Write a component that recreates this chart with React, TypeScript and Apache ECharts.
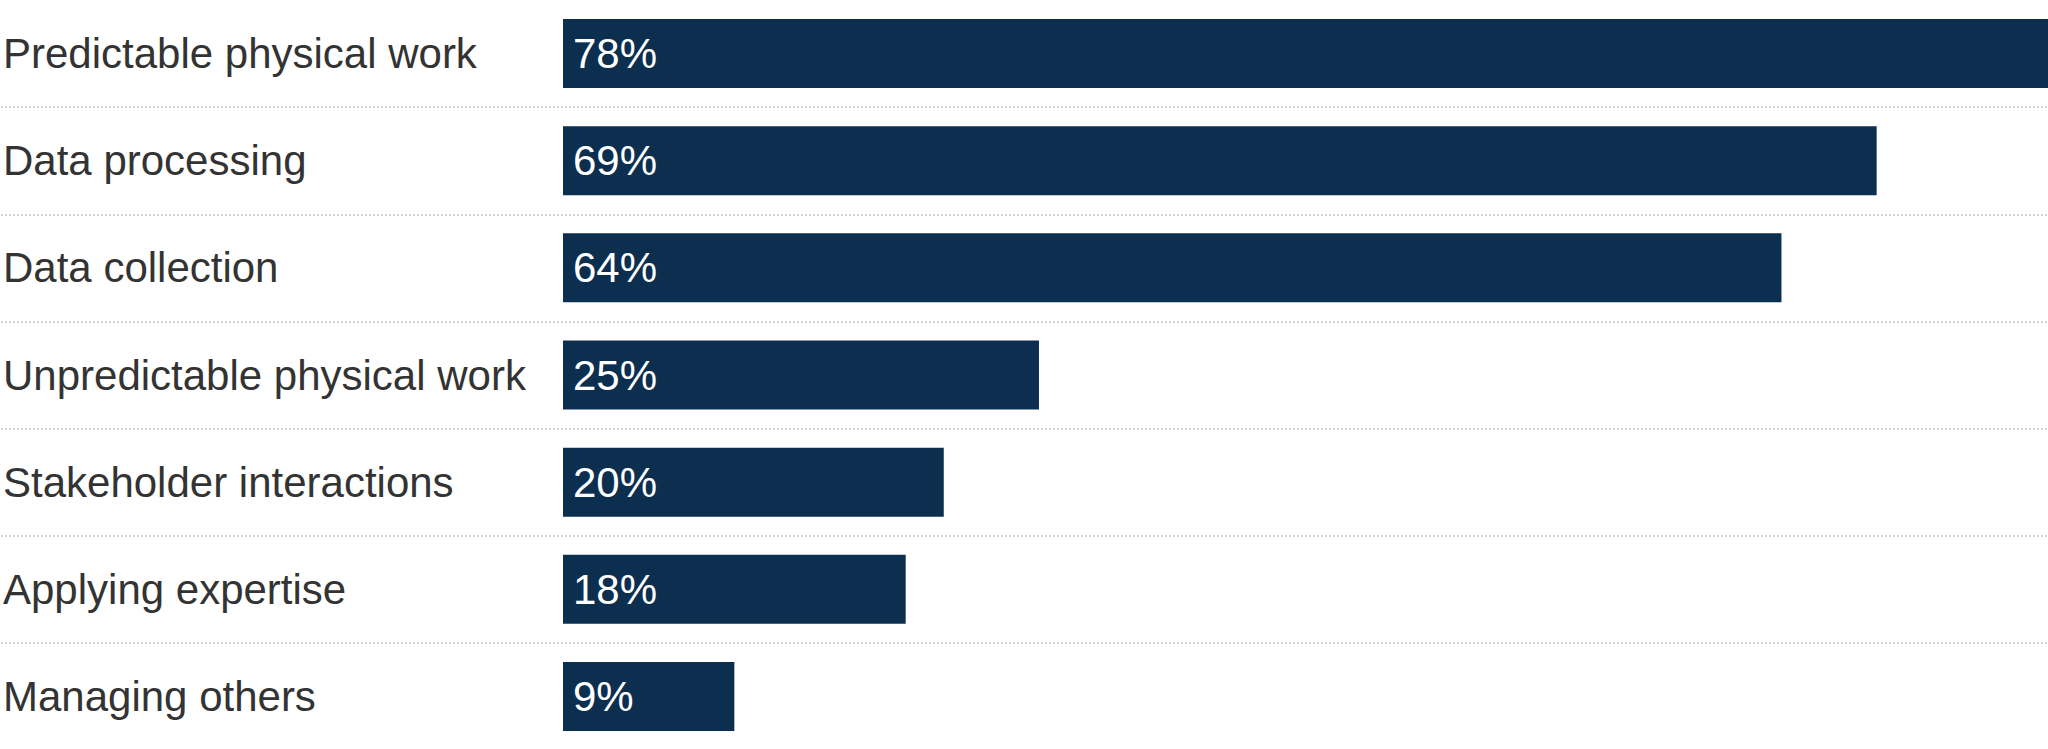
import React, { useEffect, useRef } from "react";
import * as echarts from "echarts";

const categories = [
  "Predictable physical work",
  "Data processing",
  "Data collection",
  "Unpredictable physical work",
  "Stakeholder interactions",
  "Applying expertise",
  "Managing others",
];
const values = [78, 69, 64, 25, 20, 18, 9];
const xMax = 78;

export default function App() {
  const ref = useRef<HTMLDivElement>(null);
  useEffect(() => {
    if (!ref.current) return;
    const chart = echarts.init(ref.current, undefined, { renderer: "svg" });
    const font = "'Liberation Sans', Arial, Helvetica, sans-serif";
    chart.setOption({
      animation: false,
      backgroundColor: "#ffffff",
      grid: [
        { left: 0, right: 0, top: -1, bottom: 0, containLabel: false },
        { left: 563, right: 0, top: -1, bottom: 0, containLabel: false },
      ],
      xAxis: [
        { type: "value", gridIndex: 0, min: 0, max: 1, show: false },
        { type: "value", gridIndex: 1, min: 0, max: xMax, show: false },
      ],
      yAxis: [
        {
          type: "category",
          gridIndex: 0,
          data: categories,
          inverse: true,
          axisLine: { show: false },
          axisTick: { show: false },
          axisLabel: {
            inside: true,
            margin: 2,
            align: "left",
            fontSize: 42,
            fontFamily: font,
            color: "#333333",
          },
          splitLine: {
            show: true,
            interval: (i: number) => i > 0,
            lineStyle: { color: "#d2d2d2", width: 2, type: [2, 2] },
          },
        },
        {
          type: "category",
          gridIndex: 1,
          data: categories,
          inverse: true,
          show: false,
        },
      ],
      series: [
        {
          type: "bar",
          xAxisIndex: 1,
          yAxisIndex: 1,
          data: values,
          barWidth: 69,
          itemStyle: { color: "#0c2e4f" },
          label: {
            show: true,
            position: "insideLeft",
            distance: 10,
            formatter: "{c}%",
            color: "#ffffff",
            fontSize: 42,
            fontFamily: font,
          },
        },
      ],
    });
    return () => chart.dispose();
  }, []);
  return (
    <div
      ref={ref}
      style={{ position: "fixed", left: 0, top: 0, width: 2048, height: 750 }}
    />
  );
}
